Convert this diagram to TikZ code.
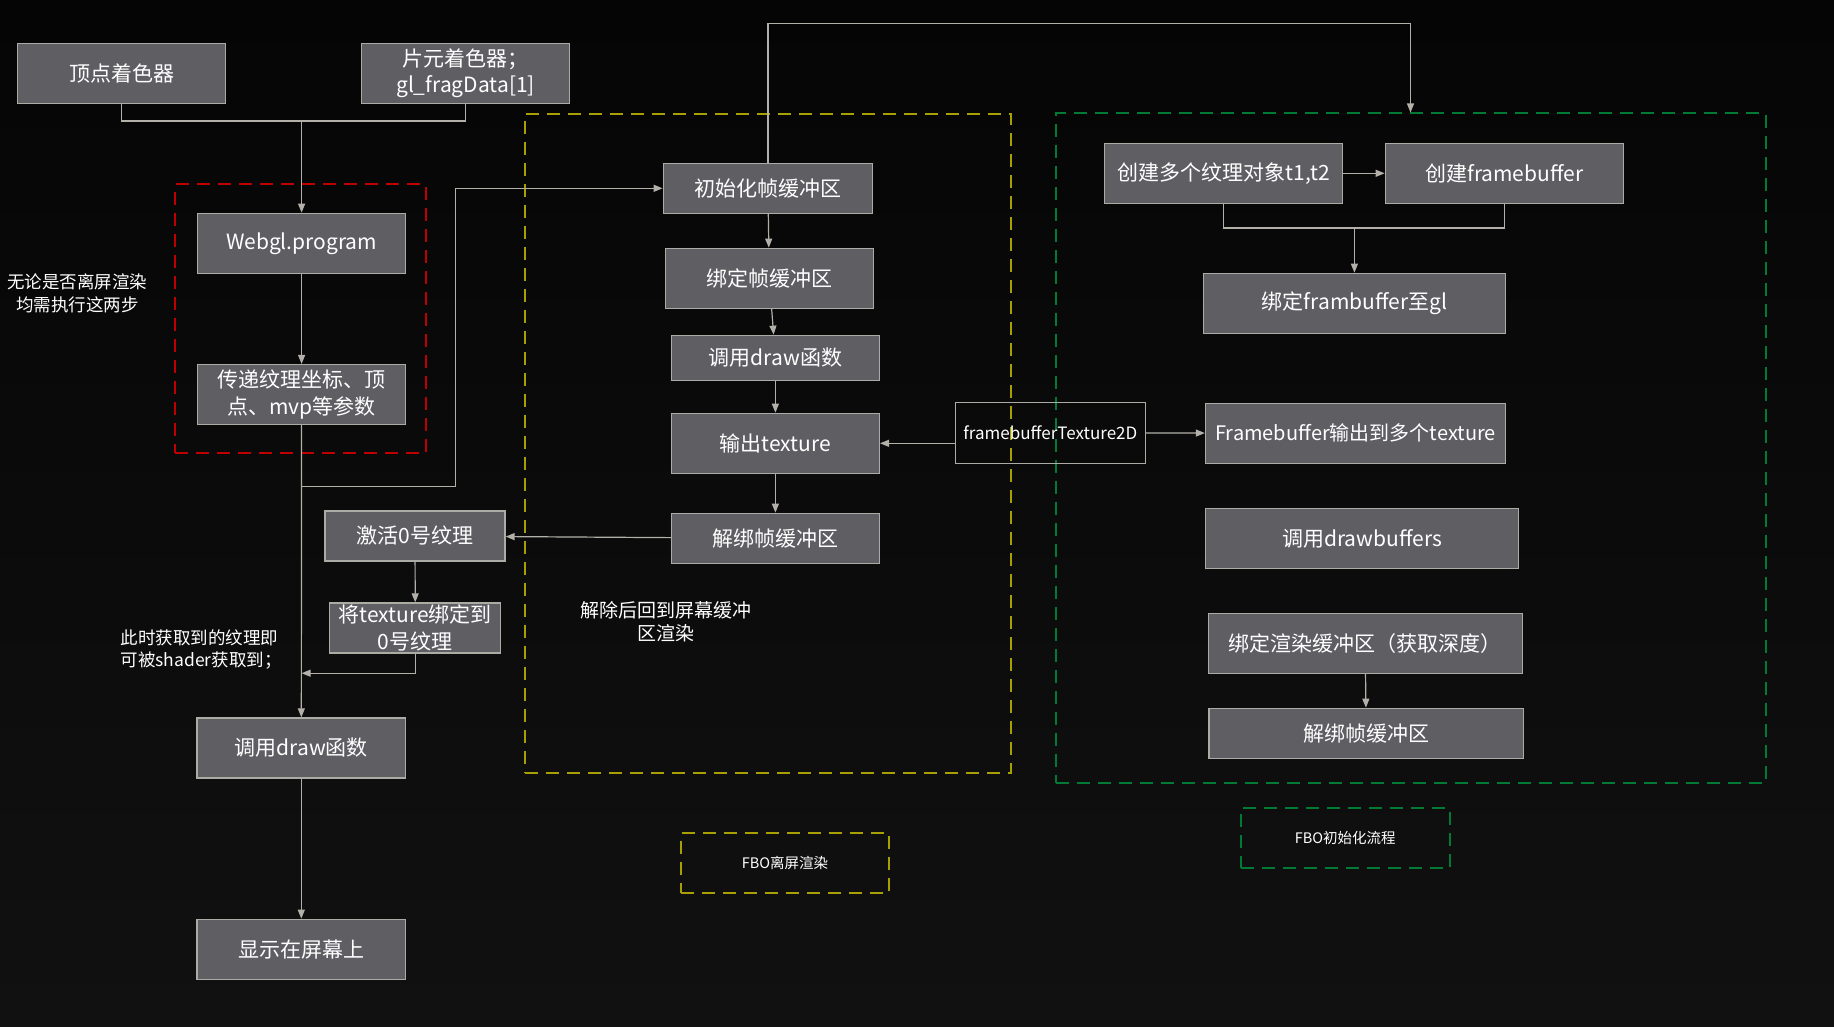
\documentclass[tikz,border=0pt]{standalone}
\usepackage{fontspec}
\setmainfont{Noto Sans CJK SC}
\usetikzlibrary{arrows.meta, positioning}
\definecolor{boxfill}{RGB}{95,94,99}
\definecolor{boxline}{RGB}{172,172,166}
\definecolor{linegray}{RGB}{178,176,168}
\definecolor{grpred}{RGB}{192,0,0}
\definecolor{grpyellow}{RGB}{168,160,0}
\definecolor{grpgreen}{RGB}{0,122,52}
\definecolor{bgtop}{RGB}{5,5,5}
\definecolor{bgbot}{RGB}{17,17,17}
\tikzset{block/.style={draw=boxline, fill=boxfill, line width=1.3pt, text=white, align=center,
    inner sep=0pt, minimum height=60pt, font=\fontsize{21}{26.5}\selectfont},
  link/.style={draw=linegray, line width=1.2pt},
  flow/.style={link, ->},
  note/.style={text=white, align=center, font=\fontsize{17.5}{22.5}\selectfont},
  group/.style={dash pattern=on 13pt off 8pt, line width=2pt, inner sep=0pt}}

\begin{document}
\begin{tikzpicture}[x=1pt, y=-1pt, >={Triangle[length=9pt,width=7pt]}]
    \useasboundingbox (0,0) rectangle (1834,1027);
    \shade[top color=bgtop, bottom color=bgbot] (0,0) rectangle (1834,1027);

    % dashed groups
    \node[group, draw=grpred, minimum width=250.3pt, minimum height=269pt] (grpR) at (300.5,318.8) {};
    \node[group, draw=grpyellow, minimum width=485.5pt, minimum height=659.9pt] (grpY) at (767.8,443.5) {};
    \node[group, draw=grpgreen, minimum width=710pt, minimum height=669.8pt] (grpG) at (1410.5,448.4) {};
    \node[group, draw=grpyellow, minimum width=208pt, minimum height=59.7pt, text=white,
      font=\fontsize{14.5}{18}\selectfont] (keyY) at (785,863.2) {FBO离屏渲染};
    \node[group, draw=grpgreen, minimum width=208.5pt, minimum height=60pt, text=white,
      font=\fontsize{14.5}{18}\selectfont] (keyG) at (1345.3,838.3) {FBO初始化流程};

    % left column
    \node[block, minimum width=208.6pt] (vs) at (121.5,73.3) {顶点着色器};
    \node[block, minimum width=208pt] (fs) at (465.5,73.3) {片元着色器；\\gl\_fragData[1]};
    \node[block, minimum width=208.2pt] (webgl) at (301.6,243.3) {Webgl.program};
    \node[block, minimum width=208.2pt, below=90pt of webgl] (pass) {传递纹理坐标、顶\\点、mvp等参数};
    \node[block, minimum width=180pt, minimum height=50pt] (act) at (415,536) {激活0号纹理};
    \node[block, minimum width=171pt, minimum height=50pt] (bindtex) at (415.3,628) {将texture绑定到\\0号纹理};
    \node[block, minimum width=208.6pt] (draw2) at (301.3,748) {调用draw函数};
    \node[block, minimum width=208.6pt, below=140pt of draw2] (show) {显示在屏幕上};
    \node[note] (why) at (77.4,293.3) {无论是否离屏渲染\\均需执行这两步};
    \node[note, align=left, anchor=west] (got) at (117,649.7) {此时获取到的纹理即\\可被shader获取到；};

    % offscreen pass
    \node[block, minimum width=209.3pt, minimum height=50pt] (init) at (767.9,188.3) {初始化帧缓冲区};
    \node[block, minimum width=207.8pt] (bindfb) at (769.3,278.3) {绑定帧缓冲区};
    \node[block, minimum width=208pt, minimum height=45pt] (call) at (775.4,357.8) {调用draw函数};
    \node[block, minimum width=208pt] (out) at (775.4,443.3) {输出texture};
    \node[block, minimum width=208pt, minimum height=50pt] (unbind) at (775.4,538.3) {解绑帧缓冲区};
    \node[note, font=\fontsize{19}{22.5}\selectfont] (back) at (666,621.7) {解除后回到屏幕缓冲\\区渲染};
    \node[block, fill=none, line width=1pt, minimum width=190pt, minimum height=61pt,
      font=\fontsize{17}{20}\selectfont] (fbt) at (1050.4,432.8) {framebufferTexture2D};

    % init flow
    \node[block, minimum width=238pt] (tex) at (1223.8,173.3) {创建多个纹理对象t1,t2};
    \node[block, minimum width=238pt] (mkfb) at (1504.3,173.3) {创建framebuffer};
    \node[block, minimum width=302pt] (bindgl) at (1354.4,303.3) {绑定frambuffer至gl};
    \node[block, minimum width=300pt, font=\fontsize{20}{26}\selectfont] (fbout) at (1355.5,433.3) {Framebuffer输出到多个texture};
    \node[block, minimum width=313pt] (drawbuf) at (1362,538.3) {调用drawbuffers};
    \node[block, minimum width=314pt] (rbuf) at (1365.2,643.3) {绑定渲染缓冲区（获取深度）};
    \node[block, minimum width=314.4pt, minimum height=50pt] (unbind2) at (1366.2,733.3) {解绑帧缓冲区};

    \coordinate (j1) at (301.6,121);
    \coordinate (bend) at (455.4,486.6);
    \coordinate (j2) at (301.6,673.2);
    \coordinate (top) at (1000,23.4);
    \coordinate (j3) at (1354.4,228);

    \draw[link] (vs) |- (j1);
    \draw[link] (fs) |- (j1);
    \draw[flow] (j1) -- (webgl);
    \draw[flow] (webgl) -- (pass);
    \draw[flow] (pass) -- (draw2);
    \draw[flow] (pass.south) |- (bend) |- (init);
    \draw[flow] (act) -- (bindtex);
    \draw[flow] (bindtex) |- (j2);
    \draw[flow] (draw2) -- (show);

    \draw[flow] (init) |- (top) -| (grpG);
    \draw[flow] (init) -- (bindfb);
    \draw[flow] (bindfb) -- (call);
    \draw[flow] (call) -- (out);
    \draw[flow] (out) -- (unbind);
    \draw[flow] (unbind) -- (act);
    \draw[flow] (fbt.west |- out) -- (out);
    \draw[flow] (fbt) -- (fbout);

    \draw[flow] (tex) -- (mkfb);
    \draw[link] (tex) |- (j3);
    \draw[link] (mkfb) |- (j3);
    \draw[flow] (j3) -- (bindgl);
    \draw[flow] (rbuf) -- (unbind2);
\end{tikzpicture}
\end{document}
